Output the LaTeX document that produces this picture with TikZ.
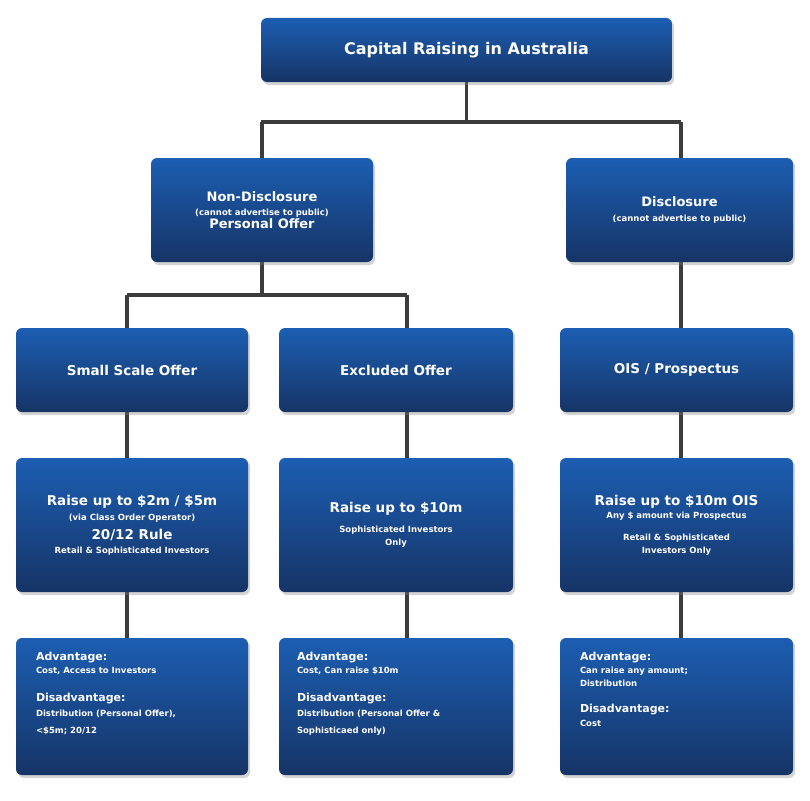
\documentclass[tikz,border=0pt]{standalone}
\usepackage{fontspec}
\setmainfont{DejaVu Sans}
\usetikzlibrary{shadows,calc}
\definecolor{btop}{RGB}{28,94,178}
\definecolor{bbot}{RGB}{22,52,102}
\definecolor{lin}{RGB}{60,60,60}
\tikzset{
 box/.style={rounded corners=6pt, top color=btop, bottom color=bbot, draw=none,
   drop shadow={shadow xshift=2pt,shadow yshift=-3pt,opacity=0.35},
   text=white, font=\bfseries, align=center, inner sep=0pt},
 conn/.style={draw=lin, line width=3.5pt},
 big/.style={font=\bfseries\fontsize{13.5}{16}\selectfont},
 sm/.style={font=\bfseries\fontsize{8.5}{10}\selectfont},
 lbl/.style={text=white, align=left, anchor=north west, inner sep=0pt}
}
\begin{document}
\begin{tikzpicture}[x=1pt,y=-1pt]
\useasboundingbox (0,0) rectangle (810,800);
% connectors first
\coordinate (j1) at (466.5,122);
\coordinate (j2) at (262,295);
\draw[conn] (466.5,82) -- (j1);
\draw[conn] (261,122) -- (681,122);
\draw[conn] (262,122) -- (262,158);
\draw[conn] (681,122) -- (681,158);
\draw[conn] (262,262) -- (j2);
\draw[conn] (127,295) -- (407,295);
\draw[conn] (127,295) -- (127,328);
\draw[conn] (407,295) -- (407,328);
\draw[conn] (681,262) -- (681,328);
\foreach \x in {127,407,681}{
 \draw[conn] (\x,412) -- (\x,458);
 \draw[conn] (\x,592) -- (\x,638);
}
% boxes
\node[box, minimum width=411pt, minimum height=64pt] (top) at (466.5,50)
  {\fontsize{16}{19}\selectfont Capital Raising in Australia};
\node[box, minimum width=222pt, minimum height=104pt] (nd) at (262,210)
  {{\fontsize{13}{15}\selectfont Non-Disclosure}\\[2pt]
   {\fontsize{8.5}{10}\selectfont (cannot advertise to public)}\\[1pt]
   {\fontsize{13}{15}\selectfont Personal Offer}};
\node[box, minimum width=227pt, minimum height=104pt] (d) at (679.5,210)
  {{\fontsize{13}{15}\selectfont Disclosure}\\[3pt]
   {\fontsize{8.5}{10}\selectfont (cannot advertise to public)}};
\node[box, minimum width=232pt, minimum height=84pt, big] (s) at (132,370) {Small Scale Offer};
\node[box, minimum width=234pt, minimum height=84pt, big] (e) at (396,370) {Excluded Offer};
\node[box, minimum width=233pt, minimum height=84pt, big] (o) at (676.5,370) {OIS / Prospectus};
\node[box, minimum width=232pt, minimum height=134pt] (s2) at (132,525)
  {{\fontsize{13.5}{16}\selectfont Raise up to \$2m / \$5m}\\[3pt]
   {\fontsize{8.5}{10}\selectfont (via Class Order Operator)}\\[6pt]
   {\fontsize{13.5}{16}\selectfont 20/12 Rule}\\[2pt]
   {\fontsize{8.5}{10}\selectfont Retail \& Sophisticated Investors}};
\node[box, minimum width=234pt, minimum height=134pt] (e2) at (396,525)
  {{\fontsize{13.5}{16}\selectfont Raise up to \$10m}\\[8pt]
   {\fontsize{8.5}{10}\selectfont Sophisticated Investors}\\[1pt]
   {\fontsize{8.5}{10}\selectfont Only}};
\node[box, minimum width=233pt, minimum height=134pt] (o2) at (676.5,525)
  {{\fontsize{13.5}{16}\selectfont Raise up to \$10m OIS}\\[1pt]
   {\fontsize{8.5}{10}\selectfont Any \$ amount via Prospectus}\\[10pt]
   {\fontsize{8.5}{10}\selectfont Retail \& Sophisticated}\\[1pt]
   {\fontsize{8.5}{10}\selectfont Investors Only}};
\node[box, minimum width=232pt, minimum height=137pt] (s3) at (132,706.5) {};
\node[box, minimum width=234pt, minimum height=137pt] (e3) at (396,706.5) {};
\node[box, minimum width=233pt, minimum height=137pt] (o3) at (676.5,706.5) {};
\node[lbl] (s3t) at ($(s3.north west)+(20,14)$)
  {{\fontsize{11}{13}\selectfont\bfseries Advantage:}\\[1pt]
   {\fontsize{8.5}{10}\selectfont\bfseries Cost, Access to Investors}\\[16pt]
   {\fontsize{11}{13}\selectfont\bfseries Disadvantage:}\\[3pt]
   {\fontsize{8.5}{10}\selectfont\bfseries Distribution (Personal Offer),}\\[5pt]
   {\fontsize{8.5}{10}\selectfont\bfseries <\$5m; 20/12}};
\node[lbl] (e3t) at ($(e3.north west)+(18,14)$)
  {{\fontsize{11}{13}\selectfont\bfseries Advantage:}\\[1pt]
   {\fontsize{8.5}{10}\selectfont\bfseries Cost, Can raise \$10m}\\[16pt]
   {\fontsize{11}{13}\selectfont\bfseries Disadvantage:}\\[3pt]
   {\fontsize{8.5}{10}\selectfont\bfseries Distribution (Personal Offer \&}\\[5pt]
   {\fontsize{8.5}{10}\selectfont\bfseries Sophisticaed only)}};
\node[lbl] (o3t) at ($(o3.north west)+(20,14)$)
  {{\fontsize{11}{13}\selectfont\bfseries Advantage:}\\[1pt]
   {\fontsize{8.5}{10}\selectfont\bfseries Can raise any amount;}\\[1pt]
   {\fontsize{8.5}{10}\selectfont\bfseries Distribution}\\[14pt]
   {\fontsize{11}{13}\selectfont\bfseries Disadvantage:}\\[2pt]
   {\fontsize{8.5}{10}\selectfont\bfseries Cost}};
\end{tikzpicture}
\end{document}
